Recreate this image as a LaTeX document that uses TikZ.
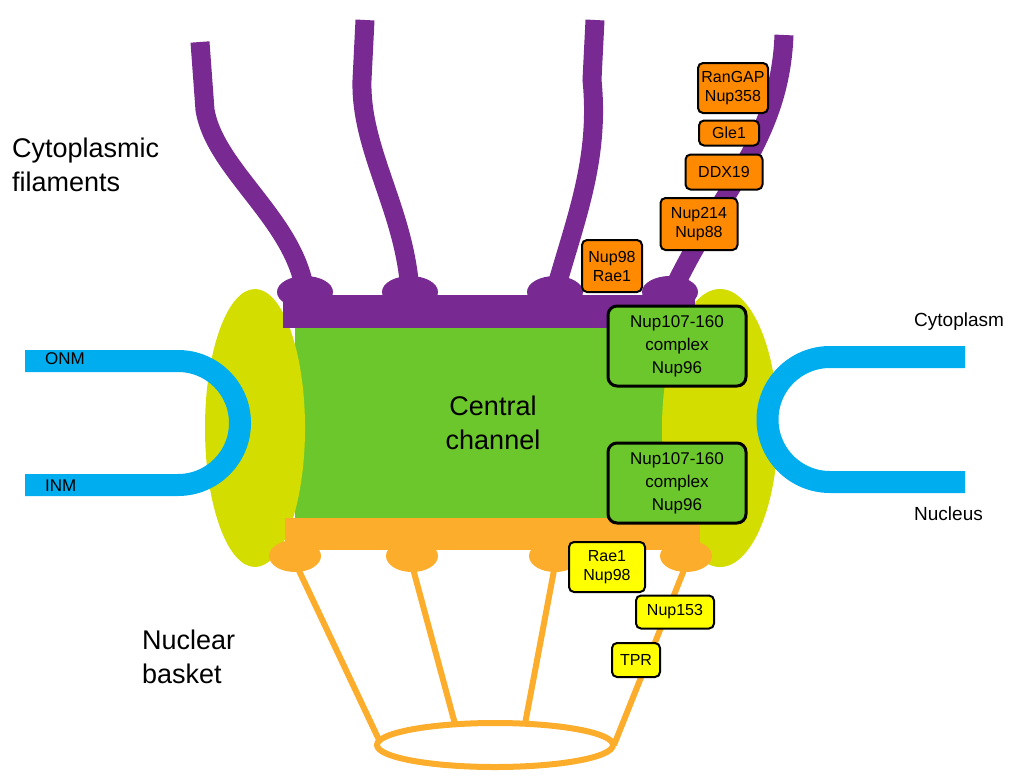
\documentclass[tikz,border=0pt]{standalone}
\usepackage{fontspec}
\setmainfont{Liberation Sans}
\usetikzlibrary{shapes.geometric}
\definecolor{purp}{HTML}{782A92}
\definecolor{grn}{HTML}{6CC72C}
\definecolor{ylg}{HTML}{D4DD00}
\definecolor{bas}{HTML}{FBAD2B}
\definecolor{blu}{HTML}{00AEEF}
\definecolor{org}{HTML}{FF8A00}
\definecolor{yel}{HTML}{FFFF00}
\begin{document}
\begin{tikzpicture}[x=1pt,y=-1pt,
  box/.style={draw=black,line width=2pt,rounded corners=5pt,align=center,inner sep=0pt,font=\fontsize{16}{19}\selectfont},
  obox/.style={box,fill=org},
  ybox/.style={box,fill=yel},
  gbox/.style={box,fill=grn,line width=3pt,rounded corners=9pt,font=\fontsize{17}{23}\selectfont},
  fil/.style={purp,line width=19pt,line cap=butt},
  bk/.style={bas,line width=6pt},
  lbl/.style={font=\fontsize{27}{34}\selectfont,align=left,inner sep=0pt},
  mem/.style={blu,line width=22pt}]
\useasboundingbox (0,0) rectangle (1024,776);
% filaments
\draw[fil] (305,292) .. controls (295,220) and (215,170) .. (205,110) -- (200,42);
\draw[fil] (410,292) .. controls (405,210) and (360,150) .. (362,80) -- (365,20);
\draw[fil] (555,292) .. controls (575,220) and (600,160) .. (592,80) -- (595,20);
\draw[fil] (672,292) .. controls (720,190) and (780,140) .. (784,35);
% basket
\draw[bk] (495,745) ellipse (118 and 22);
\node[coordinate] (b1) at (380,742) {};
\draw[bk] (293,558) -- (b1);
\draw[bk] (412,565) -- (455,724);
\draw[bk] (555,565) -- (525,724);
\draw[bk] (686,565) -- (614,745);
% body
\fill[grn] (295,325) rectangle (705,520);
\node[ellipse,fill=ylg,minimum width=100,minimum height=278,inner sep=0] (le) at (255,428) {};
\node[ellipse,fill=ylg,minimum width=116,minimum height=278,inner sep=0] (re) at (720,428) {};
\fill[purp] (283,295) rectangle (695,328);
\foreach \x in {305,410,555,670} \fill[purp] (\x,292) ellipse (28 and 16);
\fill[bas] (285,518) rectangle (700,550);
\foreach \x in {295,412,555,686} \fill[bas] (\x,556) ellipse (26 and 16);
% membranes
\draw[mem] (25,361) -- (178,361) arc[start angle=-90,end angle=90,radius=62] -- (25,485);
\draw[mem] (965,357) -- (830,357) arc[start angle=-90,end angle=-270,radius=62.5] -- (965,482);
% labels
\node[obox,minimum width=70,minimum height=50] (rg) at (733,88) {RanGAP\\Nup358};
\node[obox,minimum width=60,minimum height=25] (gl) at (729,133) {Gle1};
\node[obox,minimum width=77,minimum height=35] (dd) at (724,172) {DDX19};
\node[obox,minimum width=77,minimum height=52] (n214) at (699,224) {Nup214\\Nup88};
\node[obox,minimum width=60,minimum height=52] (n98) at (612,266) {Nup98\\Rae1};
\node[gbox,minimum width=138,minimum height=80] (g1) at (677,346) {Nup107-160\\complex\\Nup96};
\node[gbox,minimum width=138,minimum height=80] (g2) at (677,483) {Nup107-160\\complex\\Nup96};
\node[ybox,minimum width=76,minimum height=50] (r1) at (607,567) {Rae1\\Nup98};
\node[ybox,minimum width=78,minimum height=33] (n153) at (675,612) {Nup153};
\node[ybox,minimum width=48,minimum height=34] (tpr) at (636,660) {TPR};
\node[lbl,anchor=west] (cf) at (12,165) {Cytoplasmic\\filaments};
\node[lbl,align=center] (cc) at (493,423) {Central\\channel};
\node[lbl,anchor=west] (nb) at (142,657) {Nuclear\\basket};
\node[anchor=west,inner sep=0,font=\fontsize{19}{22}\selectfont] (cy) at (914,322) {Cytoplasm};
\node[anchor=west,inner sep=0,font=\fontsize{19}{22}\selectfont] (nu) at (914,514) {Nucleus};
\node[anchor=west,inner sep=0,font=\fontsize{17}{20}\selectfont] (onm) at (45,359) {ONM};
\node[anchor=west,inner sep=0,font=\fontsize{17}{20}\selectfont] (inm) at (45,486) {INM};
\end{tikzpicture}
\end{document}
